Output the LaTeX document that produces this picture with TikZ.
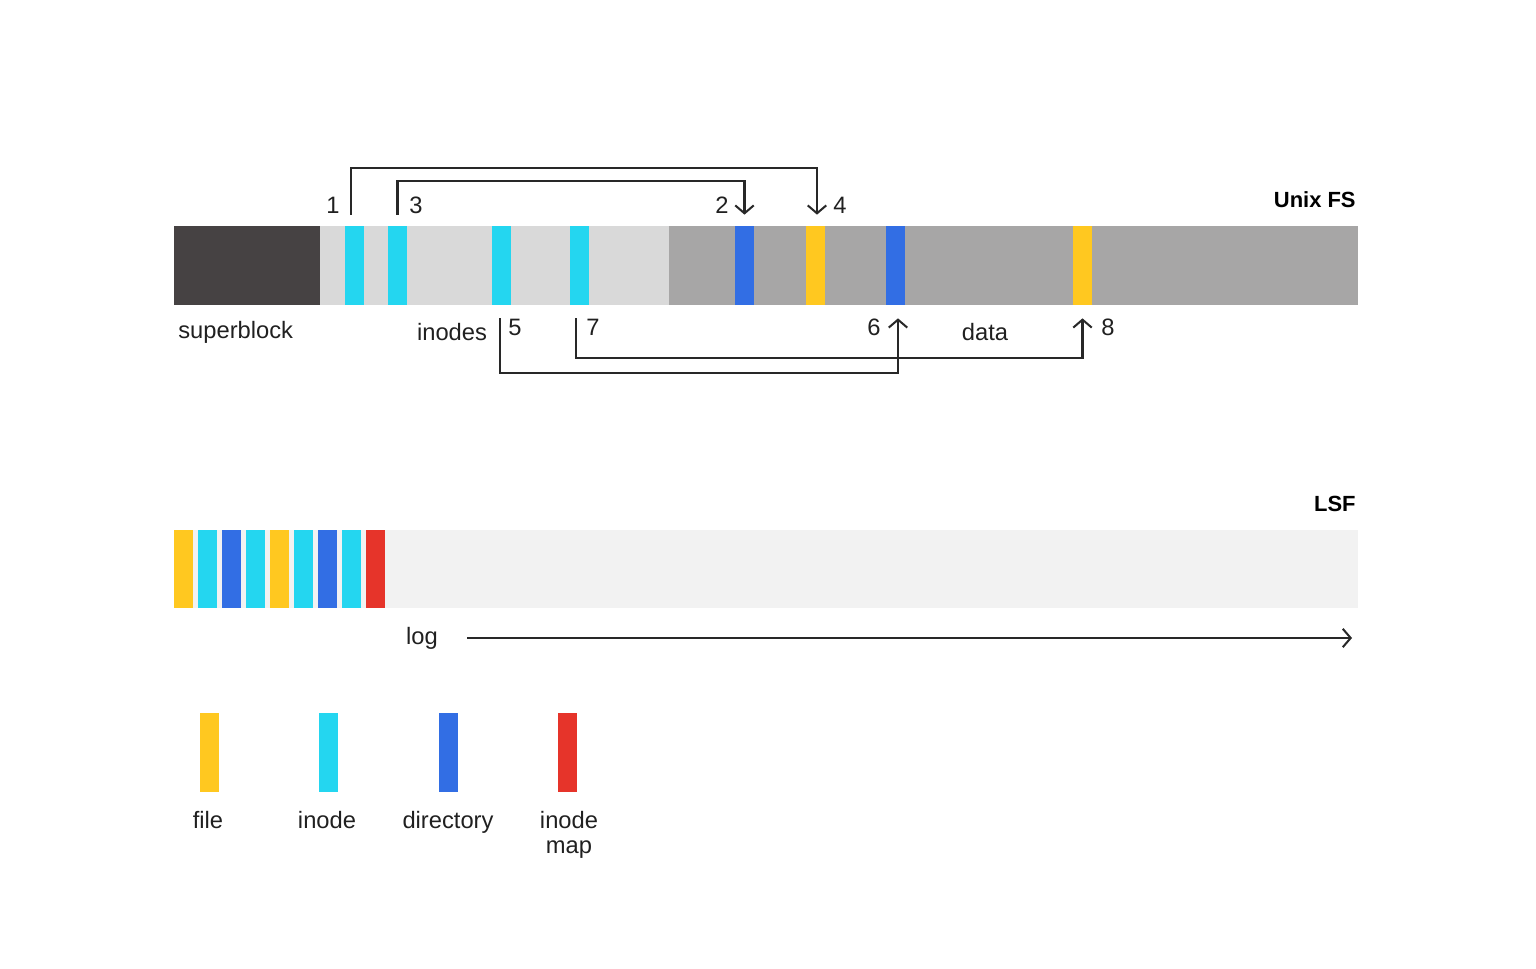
\documentclass[tikz,border=0pt]{standalone}
\usepackage{fontspec}
\setmainfont{Liberation Sans}
\usetikzlibrary{arrows.meta,calc}
\definecolor{fileyellow}{RGB}{255,200,32}
\definecolor{inodecyan}{RGB}{36,214,240}
\definecolor{dirblue}{RGB}{50,110,228}
\definecolor{mapred}{RGB}{230,52,42}
\definecolor{superdark}{RGB}{70,66,67}
\definecolor{inodegray}{RGB}{217,217,217}
\definecolor{datagray}{RGB}{167,166,166}
\definecolor{loggray}{RGB}{242,242,242}
\definecolor{linkgray}{RGB}{40,40,40}
\tikzset{
	stripe/.style={draw=none, inner sep=0pt, minimum width=0.38cm, minimum height=1.58cm},
	link/.style={draw=linkgray, line width=1.15pt, -{Straight Barb[length=4.5pt,width=10.5pt,line width=1.15pt]}},
	lbl/.style={font=\fontsize{13.5}{14.2}\selectfont, text=linkgray!80!black, inner sep=0pt},
	title/.style={font=\fontsize{12.5}{15}\selectfont\bfseries, text=black, inner sep=0pt, anchor=east}
}

\begin{document}
\begin{tikzpicture}[x=0.02cm, y=-0.02cm]
		%%%%% START %%%%%
		\useasboundingbox (0,0) rectangle (1536,969);
		
		% Unix FS
		\node[title] (unixfs) at (1356,200) {Unix FS};
		\fill[superdark] (174,226) rectangle (320,305);
		\fill[inodegray] (320,226) rectangle (669,305);
		\fill[datagray] (669,226) rectangle (1358,305);
		
		\node[stripe, fill=inodecyan] (i1) at (354.5,265.5) {};
		\node[stripe, fill=inodecyan] (i3) at (397.5,265.5) {};
		\node[stripe, fill=inodecyan] (i5) at (501.5,265.5) {};
		\node[stripe, fill=inodecyan] (i7) at (579.5,265.5) {};
		\node[stripe, fill=dirblue] (d2) at (744.5,265.5) {};
		\node[stripe, fill=fileyellow] (f4) at (815.5,265.5) {};
		\node[stripe, fill=dirblue] (d6) at (895.5,265.5) {};
		\node[stripe, fill=fileyellow] (f8) at (1082.5,265.5) {};
		
		\draw[link] ([xshift=-0.07cm,yshift=0.22cm]i1.north) -- ++(0,-47) -| ([xshift=0.03cm,yshift=0.22cm]f4.north);
		\draw[link] ([yshift=0.22cm]i3.north) -- ++(0,-34) -| ([yshift=0.22cm]d2.north);
		\draw[link] ([xshift=-0.03cm,yshift=-0.26cm]i5.south) -- ++(0,55) -| ([xshift=0.05cm,yshift=-0.26cm]d6.south);
		\draw[link] ([xshift=-0.07cm,yshift=-0.26cm]i7.south) -- ++(0,40) -| ([yshift=-0.26cm]f8.south);
		
		\node[lbl] (n1) at (333,205) {1};
		\node[lbl] (n2) at (722,205) {2};
		\node[lbl] (n3) at (416,205) {3};
		\node[lbl] (n4) at (840,205) {4};
		\node[lbl] (n5) at (515,327) {5};
		\node[lbl] (n6) at (874,327) {6};
		\node[lbl] (n7) at (593,327) {7};
		\node[lbl] (n8) at (1108,327) {8};
		
		\node[lbl, anchor=west] (superblock) at (178,332) {superblock};
		\node[lbl] (inodes) at (452,332) {inodes};
		\node[lbl] (data) at (985,332) {data};
		
		% LSF
		\node[title] (lsf) at (1356,504) {LSF};
		\fill[loggray] (174,530) rectangle (1358,608);
		\foreach \c [count=\k from 0] in {fileyellow,inodecyan,dirblue,inodecyan,fileyellow,inodecyan,dirblue,inodecyan,mapred}
			\node[stripe, fill=\c] (l\k) at ({183.5+24*\k},569) {};
		
		\node[lbl] (log) at (422,638) {log};
		\coordinate (logend) at (1352,638);
		\draw[link] ([xshift=0.58cm]log.east) -- (logend);
		
		% legend
		\node[stripe, fill=fileyellow] (kfile) at (209.5,752.5) {};
		\node[stripe, fill=inodecyan] (kinode) at (328.5,752.5) {};
		\node[stripe, fill=dirblue] (kdir) at (448.5,752.5) {};
		\node[stripe, fill=mapred] (kmap) at (567.5,752.5) {};
		
		\node[lbl, anchor=north] (tfile) at (208,811) {file};
		\node[lbl, anchor=north] (tinode) at (327,811) {inode};
		\node[lbl, anchor=north] (tdir) at (448,811) {directory};
		\node[lbl, anchor=north, align=center] (tmap) at (569,811) {inode\\map};
		
		%%%%% END %%%%%
	\end{tikzpicture}
\end{document}
